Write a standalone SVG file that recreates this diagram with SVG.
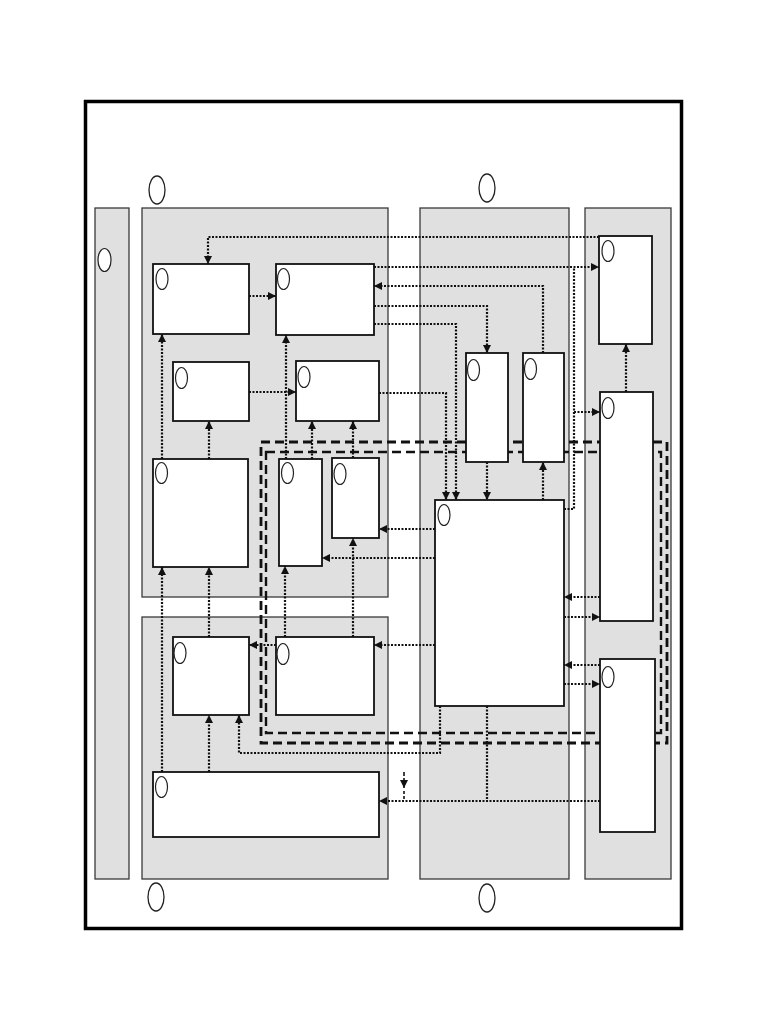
<svg xmlns="http://www.w3.org/2000/svg" width="768" height="1024" viewBox="0 0 768 1024">
<style>
.grp{fill:#e0e0e0;stroke:#3a3a3a;stroke-width:1.3}
.node{fill:#fff;stroke:#111;stroke-width:1.8}
.ell{fill:#fff;stroke:#222;stroke-width:1.2}
.bigell{fill:#fff;stroke:#222;stroke-width:1.3}
.c{fill:none;stroke:#111;stroke-width:2.2;stroke-dasharray:2 1.5}
.ca{fill:none;stroke:#111;stroke-width:2.2;stroke-dasharray:2 1.5;marker-end:url(#ah)}
.dash1{fill:none;stroke:#111;stroke-width:2.8;stroke-dasharray:9 5}
.dash2{fill:none;stroke:#111;stroke-width:2.4;stroke-dasharray:9 5}
</style>
<defs>
<marker id="ah" viewBox="0 0 10 10" refX="10" refY="5" markerWidth="9" markerHeight="8" markerUnits="userSpaceOnUse" orient="auto">
<path d="M0,0 L10,5 L0,10 z" fill="#111"/>
</marker>
</defs>
<rect x="0" y="0" width="768" height="1024" fill="#fff"/>
<rect x="85.5" y="101.5" width="596" height="827" fill="#fff" stroke="#000" stroke-width="3.5"/>

<g id="groups">
<g id="strip-left"><rect class="grp" x="95" y="208" width="34" height="671"/><ellipse class="ell" cx="104.5" cy="260" rx="6.5" ry="11.5"/></g>
<g id="group-top-left"><rect class="grp" x="142" y="208" width="246" height="389"/><ellipse class="bigell" cx="157" cy="190" rx="8" ry="14"/></g>
<g id="group-bottom-left"><rect class="grp" x="142" y="617" width="246" height="262"/><ellipse class="bigell" cx="156" cy="897" rx="8" ry="14"/></g>
<g id="group-middle"><rect class="grp" x="420" y="208" width="149" height="671"/><ellipse class="bigell" cx="487" cy="188" rx="8" ry="14"/><ellipse class="bigell" cx="487" cy="898" rx="8" ry="14"/></g>
<g id="group-right"><rect class="grp" x="585" y="208" width="86" height="671"/></g>
</g>

<g id="dashed-boundaries">
<rect class="dash1" x="261" y="442" width="406" height="301"/>
<rect class="dash2" x="266" y="452" width="395" height="281"/>
</g>

<g id="connectors">
<path class="ca" d="M599,237 H208 V264"/>
<path class="ca" d="M374,267 H599"/>
<path class="c" d="M564,509 H574 V267"/>
<path class="ca" d="M574,412 H600"/>
<path class="ca" d="M543,353 V286 H374"/>
<path class="ca" d="M374,306 H487 V353"/>
<path class="ca" d="M374,324 H456 V500"/>
<path class="ca" d="M379,393 H446 V500"/>
<path class="ca" d="M249,296 H276"/>
<path class="ca" d="M249,392 H296"/>
<path class="ca" d="M162,459 V334"/>
<path class="ca" d="M209,459 V421"/>
<path class="ca" d="M286,459 V335"/>
<path class="ca" d="M312,459 V421"/>
<path class="ca" d="M353,458 V421"/>
<path class="ca" d="M162,772 V567"/>
<path class="ca" d="M209,637 V567"/>
<path class="ca" d="M285,637 V566"/>
<path class="ca" d="M353,637 V538"/>
<path class="ca" d="M435,529 H379"/>
<path class="ca" d="M435,558 H322"/>
<path class="ca" d="M435,645 H374"/>
<path class="ca" d="M276,645 H249"/>
<path class="ca" d="M209,772 V715"/>
<path class="ca" d="M440,706 V753 H239 V715"/>
<path class="ca" d="M600,801 H379"/>
<path class="c" d="M487,706 V801"/>
<path fill="none" stroke="#111" stroke-width="1.6" stroke-dasharray="4 2" marker-end="url(#ah)" d="M404,772 V788"/>
<path fill="none" stroke="#111" stroke-width="1.6" stroke-dasharray="3 2" d="M404,791 V800"/>
<path class="ca" d="M487,462 V500"/>
<path class="ca" d="M543,500 V462"/>
<path class="ca" d="M626,392 V344"/>
<path class="ca" d="M600,597 H564"/>
<path class="ca" d="M564,617 H600"/>
<path class="ca" d="M600,665 H564"/>
<path class="ca" d="M564,684 H600"/>
</g>

<g id="node-A"><rect class="node" x="153" y="264" width="96" height="70"/><ellipse class="ell" cx="162" cy="279" rx="6" ry="10.5"/></g>
<g id="node-B"><rect class="node" x="276" y="264" width="98" height="71"/><ellipse class="ell" cx="283.5" cy="279" rx="6" ry="10.5"/></g>
<g id="node-C"><rect class="node" x="173" y="362" width="76" height="59"/><ellipse class="ell" cx="181.5" cy="378" rx="6" ry="10.5"/></g>
<g id="node-D"><rect class="node" x="296" y="361" width="83" height="60"/><ellipse class="ell" cx="304" cy="377" rx="6" ry="10.5"/></g>
<g id="node-E"><rect class="node" x="153" y="459" width="95" height="108"/><ellipse class="ell" cx="161.5" cy="473" rx="6" ry="10.5"/></g>
<g id="node-F"><rect class="node" x="279" y="459" width="43" height="107"/><ellipse class="ell" cx="287.5" cy="473" rx="6" ry="10.5"/></g>
<g id="node-G"><rect class="node" x="332" y="458" width="47" height="80"/><ellipse class="ell" cx="340" cy="474" rx="6" ry="10.5"/></g>
<g id="node-H"><rect class="node" x="173" y="637" width="76" height="78"/><ellipse class="ell" cx="180" cy="653" rx="6" ry="10.5"/></g>
<g id="node-I"><rect class="node" x="276" y="637" width="98" height="78"/><ellipse class="ell" cx="283" cy="654" rx="6" ry="10.5"/></g>
<g id="node-J"><rect class="node" x="153" y="772" width="226" height="65"/><ellipse class="ell" cx="161.5" cy="787" rx="6" ry="10.5"/></g>
<g id="node-K"><rect class="node" x="466" y="353" width="42" height="109"/><ellipse class="ell" cx="473.5" cy="370" rx="6" ry="10.5"/></g>
<g id="node-L"><rect class="node" x="523" y="353" width="41" height="109"/><ellipse class="ell" cx="530.5" cy="369" rx="6" ry="10.5"/></g>
<g id="node-M"><rect class="node" x="435" y="500" width="129" height="206"/><ellipse class="ell" cx="444" cy="515" rx="6" ry="10.5"/></g>
<g id="node-N"><rect class="node" x="599" y="236" width="53" height="108"/><ellipse class="ell" cx="608" cy="251" rx="6" ry="10.5"/></g>
<g id="node-O"><rect class="node" x="600" y="392" width="53" height="229"/><ellipse class="ell" cx="608" cy="408" rx="6" ry="10.5"/></g>
<g id="node-P"><rect class="node" x="600" y="659" width="55" height="173"/><ellipse class="ell" cx="608" cy="677" rx="6" ry="10.5"/></g>
</svg>
